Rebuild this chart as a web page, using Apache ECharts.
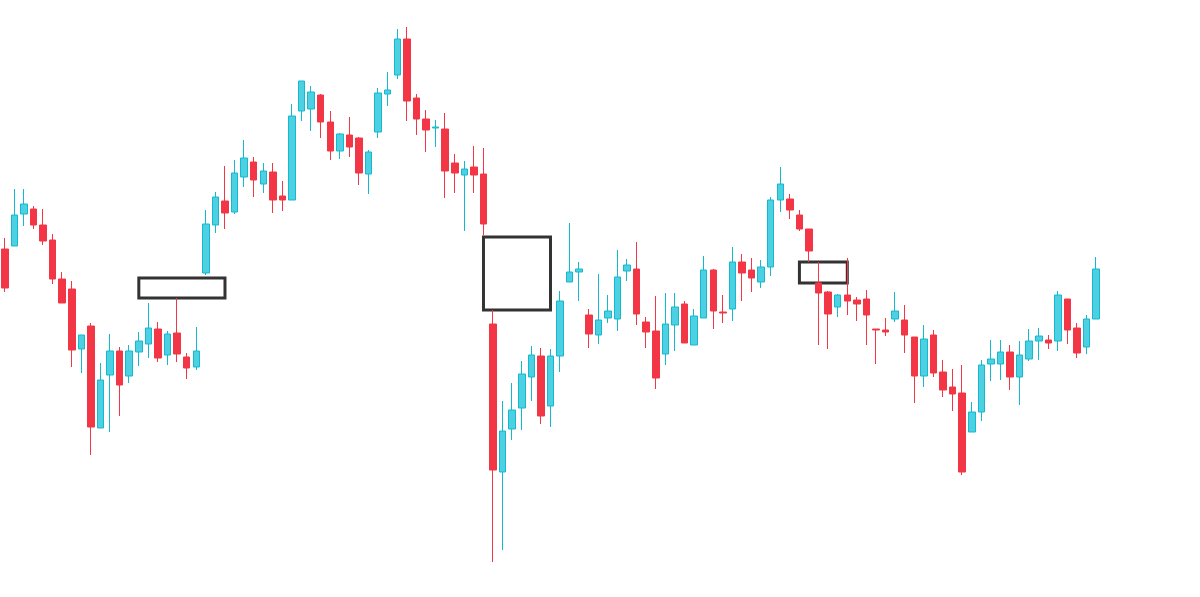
<!DOCTYPE html>
<html>
<head>
<meta charset="utf-8">
<script src="https://cdn.jsdelivr.net/npm/echarts@6/dist/echarts.min.js"></script>
<style>html,body{margin:0;padding:0;background:#fff}#main{width:1200px;height:597px}</style>
</head>
<body>
<div id="main"></div>
<script>
// values, in screen units (axis is inverted): [open, close, top, bottom]
var candles = [
  [249,288,238,292],[246,215,189,246],[214,204,189,226],[209,225,206,229],[225,241,209,245],
  [240,279,234,284],[279,303,272,303],[289,350,281,367],[349,335,335,373],[326,427,323,455],
  [428,380,363,428],[375,351,334,432],[351,385,347,416],[376,351,345,383],[352,341,332,366],
  [344,328,303,358],[329,358,322,362],[355,334,331,365],[333,354,298,362],[357,368,353,379],
  [367,351,327,370],[273,224,210,275],[225,197,192,233],[201,213,166,229],[212,173,160,214],
  [177,158,140,187],[162,180,157,197],[184,171,163,193],[172,200,163,213],[196,200,181,211],
  [200,116,104,200],[111,81,81,121],[109,92,86,131],[95,122,94,138],[122,151,111,160],
  [151,134,133,159],[135,147,117,157],[138,173,137,185],[174,152,150,194],[132,93,88,138],
  [94,90,72,106],[75,39,29,79],[39,101,27,121],[98,119,94,135],[119,130,110,152],
  [128,127,120,147],[129,171,113,198],[163,173,154,193],[175,169,161,231],[167,175,146,193],
  [174,224,148,235],[324,470,310,562],[472,431,401,550],[429,410,383,440],[408,374,361,430],
  [377,355,346,401],[356,416,348,424],[406,356,349,427],[356,301,291,372],[282,272,223,282],
  [272,269,262,301],[315,334,309,348],[335,320,274,344],[318,311,295,323],[319,277,250,331],
  [271,265,259,281],[269,314,242,325],[322,332,317,348],[331,378,296,389],[354,324,293,365],
  [325,307,293,351],[304,343,301,343],[345,316,309,345],[318,270,256,318],[270,311,269,329],
  [312,313,295,323],[309,262,247,321],[262,273,254,301],[270,278,258,292],[282,267,260,288],
  [267,200,197,276],[200,184,167,212],[199,210,194,219],[215,229,210,231],[229,251,229,262],
  [283,293,262,345],[292,314,291,349],[307,295,294,317],[295,301,258,315],[300,304,297,321],
  [299,315,290,345],[329,330,329,364],[330,332,318,336],[319,311,292,322],[320,335,305,353],
  [337,376,337,403],[376,339,325,387],[335,373,330,377],[372,390,360,397],[387,394,369,411],
  [393,472,365,475],[432,412,402,432],[412,365,360,421],[364,359,340,381],[364,352,340,380],
  [352,377,345,390],[377,355,341,405],[359,341,329,361],[341,336,328,360],[340,343,335,349],
  [341,295,291,351],[299,330,299,344],[328,353,323,358],[347,319,315,354],[319,269,257,319]
];
var categories = candles.map(function (d, i) { return i; });

// boxes drawn over the candles: [startIndex, endIndex, top, bottom]
var boxes = [[14,23,278,298],[50,57,237,310],[83,88,262,283]];

var myChart = echarts.init(document.getElementById('main'));
var option = {
  animation: false,
  grid: { left: -3, right: 99, top: 0, bottom: 0 },
  xAxis: { type: 'category', data: categories, show: false },
  yAxis: { type: 'value', inverse: true, min: 0, max: 597, show: false },
  series: [
    {
      type: 'candlestick',
      data: candles,
      barWidth: 7,
      itemStyle: {
        color: '#f23645', color0: '#4dd0e1',
        borderColor: '#f23645', borderColor0: '#12b9cf', borderWidth: 1
      }
    },
    {
      type: 'line',
      data: [],
      z: 10,
      markArea: {
        silent: true,
        itemStyle: { color: '#ffffff', borderColor: '#333333', borderWidth: 3 },
        data: boxes.map(function (b) {
          return [{ xAxis: b[0], yAxis: b[2] }, { xAxis: b[1], yAxis: b[3] }];
        })
      }
    }
  ]
};
myChart.setOption(option);
</script>
</body>
</html>
